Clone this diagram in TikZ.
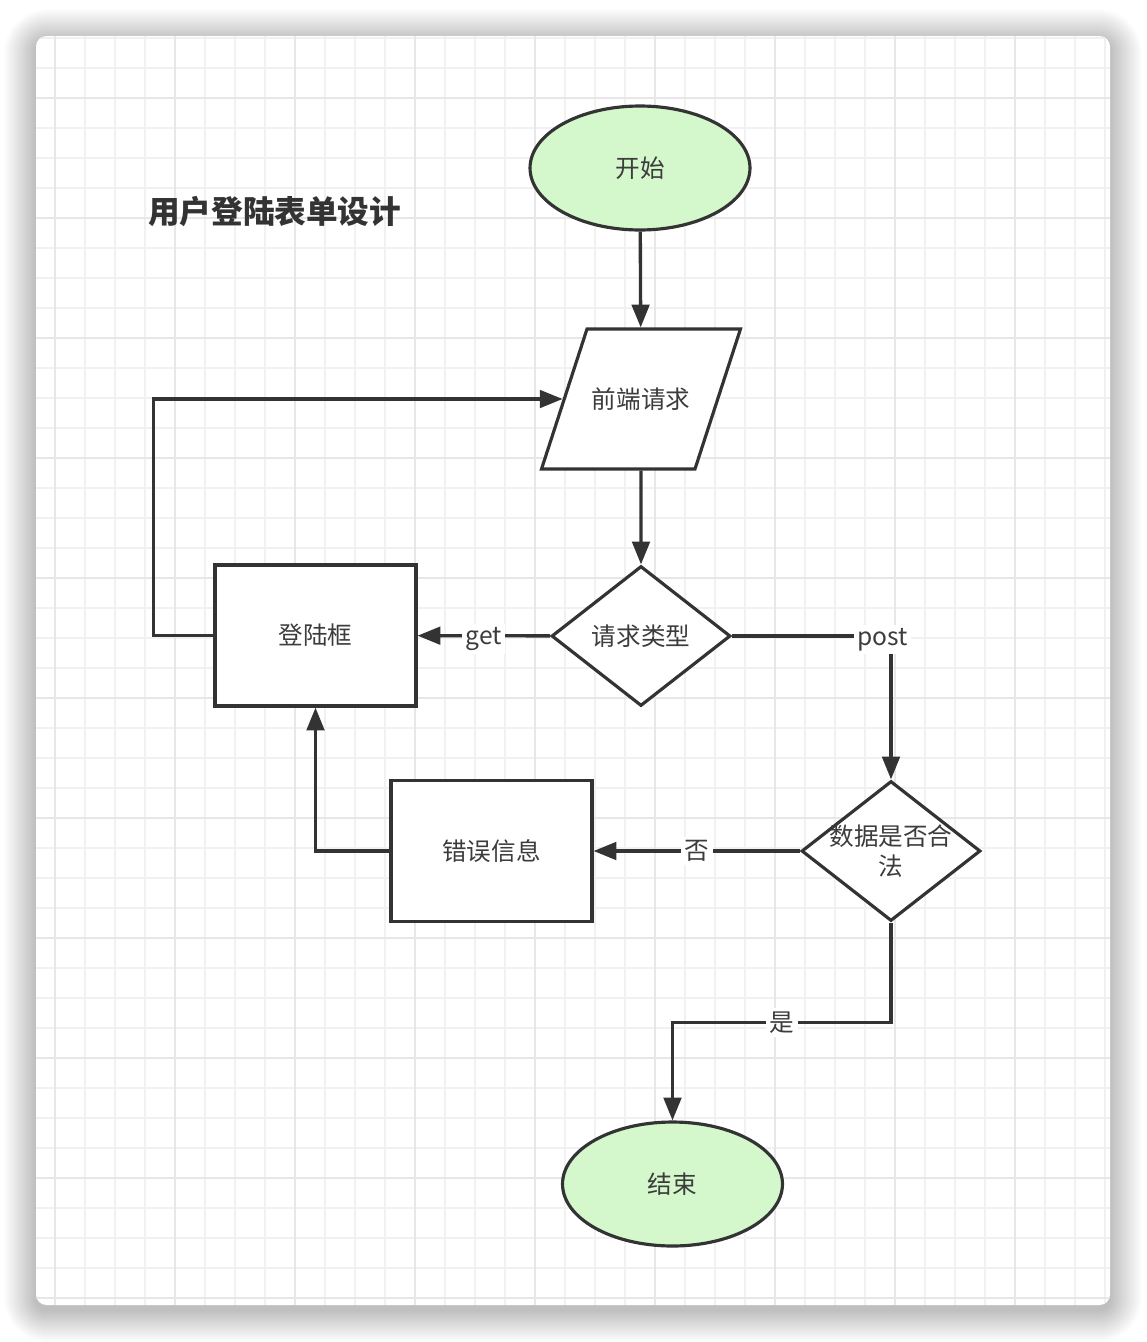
\documentclass[tikz,border=0pt]{standalone}
\usepackage{fontspec}
\setmainfont{Noto Sans CJK SC}
\usetikzlibrary{arrows.meta,shapes.geometric,calc}
\definecolor{lineGray}{HTML}{333333}
\definecolor{textGray}{HTML}{3C3C3C}
\definecolor{termGreen}{HTML}{D4F8CC}
\definecolor{gridMinor}{HTML}{F1F1F1}
\definecolor{gridMajor}{HTML}{E7E7E7}

\begin{document}
\begin{tikzpicture}[x=0.02cm,y=-0.02cm,
  every node/.style={font=\fontsize{14}{17}\selectfont, text=textGray},
  terminal/.style={ellipse, draw=lineGray, line width=1.8pt, fill=termGreen,
    minimum width=4.4cm, minimum height=2.48cm},
  iobox/.style={trapezium, trapezium left angle=72, trapezium right angle=108,
    draw=lineGray, line width=1.8pt, fill=white, inner sep=0pt,
    text width=2.16cm, align=center, text height=1.59cm, text depth=1.21cm},
  procbox/.style={rectangle, draw=lineGray, line width=1.8pt, fill=white,
    minimum width=4.02cm, minimum height=2.82cm},
  decision/.style={diamond, draw=lineGray, line width=1.8pt, fill=white,
    minimum width=3.58cm, minimum height=2.8cm, inner sep=0pt},
  flow/.style={draw=lineGray, line width=1.9pt, -{Triangle[length=13pt,width=10pt]}},
  edgelabel/.style={fill=white, inner sep=2pt}]
\useasboundingbox (0,0) rectangle (1146,1342);
\fill[white] (0,0) rectangle (1146,1342);
\foreach \i [evaluate=\i as \r using 6+0.6*\i] in {1,...,32}
  \fill[black, opacity=0.008, rounded corners=\r pt]
    (36-\i,36-\i+5) rectangle (1110+\i,1305+\i+5);
\fill[white, rounded corners=6pt] (36,36) rectangle (1110,1305);
\begin{scope}
\clip[rounded corners=6pt] (36,36) rectangle (1110,1305);
\foreach \gx in {55,85,...,1105}
  \draw[gridMinor, line width=0.85pt] (\gx,36) -- (\gx,1305);
\foreach \gy in {38,68,...,1300}
  \draw[gridMinor, line width=0.85pt] (36,\gy) -- (1110,\gy);
\foreach \gx in {55,175,...,1105}
  \draw[gridMajor, line width=0.85pt] (\gx,36) -- (\gx,1305);
\foreach \gy in {98,218,...,1300}
  \draw[gridMajor, line width=0.85pt] (36,\gy) -- (1110,\gy);
\end{scope}

\node[anchor=west, font=\fontsize{18}{21}\selectfont\bfseries, text=lineGray] (title) at (142,212) {用户登陆表单设计};

\node[terminal] (start) at (640,168) {开始};
\node[iobox] (front) at (641,399) {前端请求};
\node[decision] (reqtype) at (641,636) {请求类型};
\node[procbox] (loginbox) at (315.5,635.5) {登陆框};
\node[decision] (valid) at (891,851) {};
\node[align=center] (validtext) at (valid) {数据是否合\\法};
\node[procbox] (errbox) at (491.5,851) {错误信息};
\node[terminal] (finish) at (672.5,1184) {结束};

\draw[flow] (start) -- (front);
\draw[flow] (front) -- (reqtype);
\draw[flow] (reqtype) -- node[edgelabel, yshift=-2pt] {get} (loginbox);
\draw[flow] (loginbox.west) -- ++(-60,0) |- (front.west);
\draw[flow] (reqtype.east) -| node[edgelabel, pos=0.5, xshift=-5, yshift=-2pt] {post} (valid.north);
\draw[flow] (valid) -- node[edgelabel] {否} (errbox);
\draw[flow] (errbox.west) -| (loginbox.south);
\draw[flow] (valid.south) -- ++(0,100) -| node[edgelabel, pos=0.25] {是} (finish.north);
\end{tikzpicture}
\end{document}
